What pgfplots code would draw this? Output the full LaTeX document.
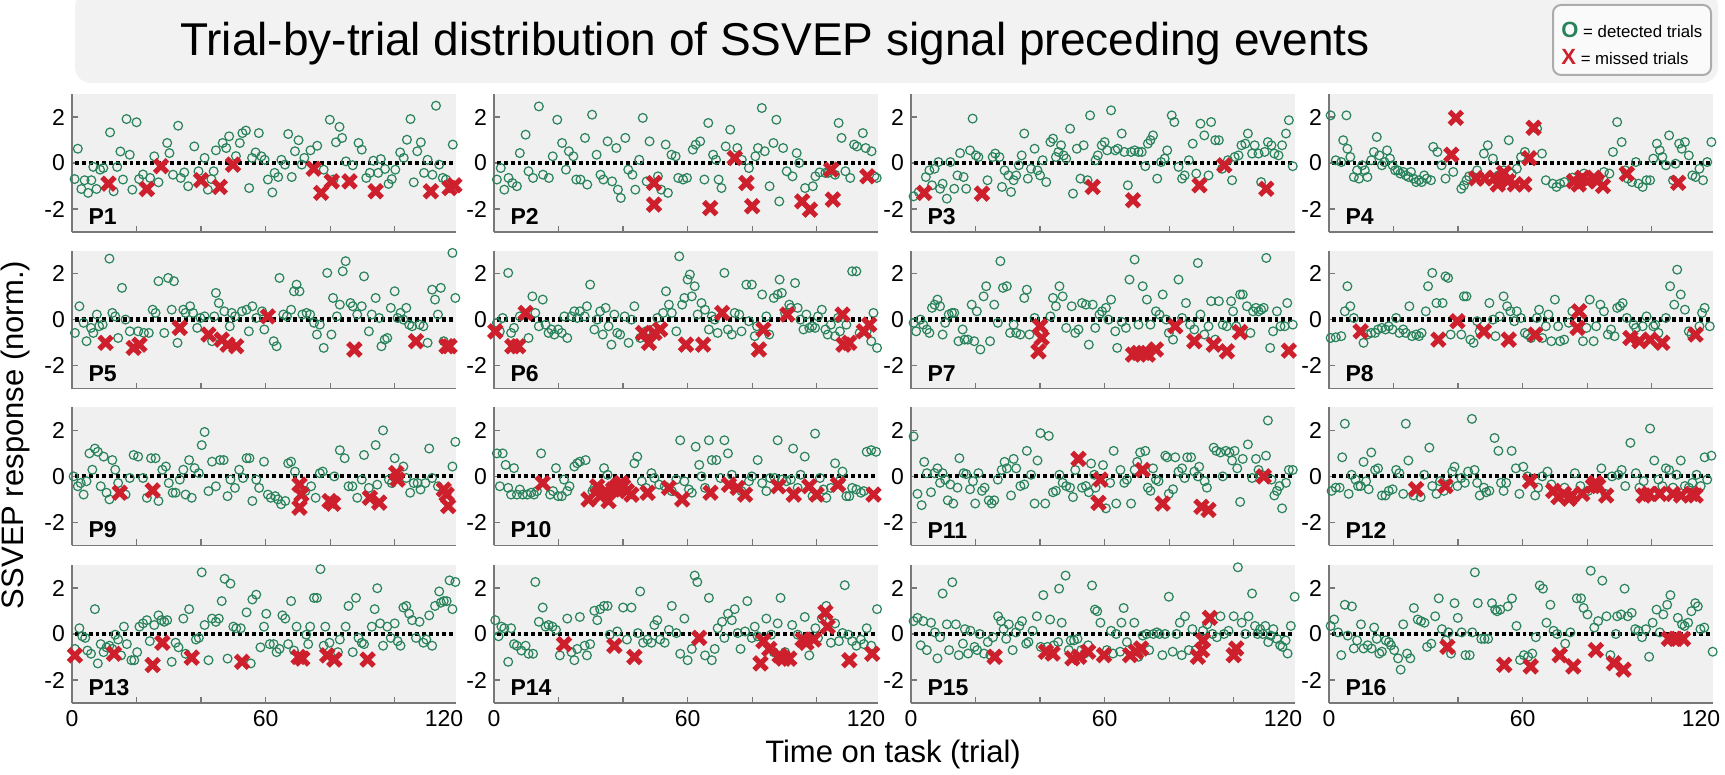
\documentclass[border=0pt]{standalone}
\usepackage{pgfplots}
\pgfplotsset{compat=1.18}
\usepackage{fontspec}
\setmainfont{Liberation Sans}
\definecolor{panelbg}{RGB}{240,240,240}
\definecolor{bannerbg}{RGB}{242,242,242}
\definecolor{axisgray}{RGB}{120,120,120}
\definecolor{detgreen}{RGB}{40,130,90}
\definecolor{misred}{RGB}{205,32,44}
\tikzset{plab/.style={font=\bfseries\fontsize{11.5}{12}\selectfont, anchor=south west, inner sep=0pt}}
\pgfplotsset{
 panel/.style={scale only axis, width=192pt, height=69pt, anchor=south west,
  xmin=0, xmax=119, ymin=-3, ymax=3,
  axis background/.style={fill=panelbg},
  axis x line*=bottom, axis y line*=left,
  axis line style={draw=axisgray, line width=0.6pt},
  tick align=inside, major tick length=3pt,
  tick style={draw=axisgray, line width=0.6pt},
  xtick={0,20,40,60,80,100}, xticklabels={},
  ytick={-2,0,2}, yticklabels={-2,0,2},
  tick label style={font=\fontsize{11.5}{12}\selectfont, text=black}},
 bottomrow/.style={xticklabels={0,,,60,,}, extra x ticks={115.3}, extra x tick labels={120}, extra x tick style={major tick length=0pt}},
 det/.style={only marks, mark=o, mark size=2.2pt, mark options={draw=detgreen, line width=0.6pt}},
 mis/.style={only marks, mark=x, mark size=4.5pt, mark options={draw=misred, line width=2.6pt}},
 zl/.style={black, line width=2.1pt, dash pattern=on 1.9pt off 1.5pt}
}
\begin{document}
\begin{tikzpicture}
\path[use as bounding box] (0pt,0pt) rectangle (862.5pt,387.5pt);
% banner
\fill[bannerbg, rounded corners=8pt] (37.5pt,346pt) rectangle (859pt,392pt);
\node[font=\fontsize{23}{26}\selectfont] at (387.5pt,365.5pt) {Trial-by-trial distribution of SSVEP signal preceding events};
\draw[draw=gray!65, fill=gray!4, line width=1pt, rounded corners=4pt] (776.5pt,350pt) rectangle (855.5pt,385pt);
\node[anchor=west, font=\fontsize{8.4}{9}\selectfont, inner sep=0pt] at (780.5pt,372.5pt) {\textcolor{detgreen}{\bfseries\fontsize{11}{11}\selectfont O} = detected trials};
\node[anchor=west, font=\fontsize{8.4}{9}\selectfont, inner sep=0pt] at (780.5pt,359pt) {\textcolor{misred}{\bfseries\fontsize{11}{11}\selectfont X} = missed trials};
\node[rotate=90, font=\fontsize{15.5}{16}\selectfont] at (7.5pt,170pt) {SSVEP response (norm.)};
\node[font=\fontsize{15.5}{16}\selectfont] at (446.5pt,10.5pt) {Time on task (trial)};

% ---------------- Row 1 ----------------
\begin{axis}[panel, at={(36pt,271.5pt)}]
\addplot[det] coordinates {(1.8,0.62)(0.8,-0.7)(2.9,-1.13)(3.9,-0.75)(5,-1.3)(6,-0.75)(6.6,-0.17)(7.6,-1.13)(8.7,-0.29)(9.7,-0.22)(11.8,1.33)(12.9,-1.23)(14,-0.17)(15,0.5)(15.8,-0.72)(16.9,1.91)(17.9,0.36)(18.7,-1.16)(20,1.77)(20.8,-0.7)(22,-0.5)(24.2,-0.65)(25.5,0.29)(26.8,-0.84)(29.5,0.87)(30.2,0.43)(31.3,-0.51)(32.9,1.62)(33.7,-0.65)(34.8,-0.41)(36,-1.01)(37.9,0.72)(39.2,-0.36)(41.1,0.22)(42.1,-1.16)(43.2,-0.7)(43.9,-0.36)(44.6,0.55)(46.7,0.87)(47.8,0.65)(48.7,1.16)(50.8,0.3)(52,0.87)(52.8,1.3)(53.9,1.41)(54.9,-1.09)(55.8,0.22)(56.9,0.46)(57.9,1.3)(58.7,0.29)(59.7,0.14)(60.7,-0.72)(62.1,-1.28)(62.8,-0.43)(63.9,-0.61)(64.9,0.14)(66,-0.07)(67,1.26)(68.1,-0.61)(69.1,0.51)(70.2,0.99)(71.2,-0.07)(72,0.22)(73.9,0.55)(76,0.75)(78,-0.29)(79.9,1.88)(81,-0.72)(81.8,0.9)(82.9,1.57)(83.7,1.09)(84.9,0.07)(87,-0.1)(88.8,0.87)(89.8,0.58)(91.2,-0.65)(92.3,-0.43)(93.4,0.1)(94.9,-0.43)(95.7,0.17)(97,-0.26)(98.1,-0.91)(99.1,-0.7)(100.2,-0.29)(101.7,0.46)(102.8,0.22)(103.8,1.01)(104.9,1.91)(105.9,-0.84)(107,0.51)(108.1,0.9)(109.1,-0.43)(110.2,0.14)(111.7,-0.51)(112.8,2.49)(113.8,-0.07)(114.9,-0.65)(115.9,-0.72)(118,0.8)};
\addplot[zl] coordinates {(1,0)(118.5,0)};
\addplot[mis] coordinates {(11.3,-0.9)(23.2,-1.13)(27.6,-0.14)(40,-0.75)(45.8,-1.04)(49.9,-0.07)(74.9,-0.25)(77.2,-1.3)(80.5,-0.8)(86,-0.8)(94.1,-1.23)(111.2,-1.23)(117,-1.09)(118.5,-0.97)};
\node[plab] at (rel axis cs:0.042,0.05) {P1};
\end{axis}

\begin{axis}[panel, at={(247pt,271.5pt)}]
\addplot[det] coordinates {(0.9,-0.72)(2.1,-0.22)(3.2,-1.16)(4.5,-0.65)(5.7,-0.87)(7.1,-1.01)(8,0.43)(9.8,1.23)(10.7,-0.36)(12.1,-0.65)(13.9,2.46)(15.2,-0.51)(17,-0.65)(18.2,0.29)(19.6,1.88)(21.1,0.87)(22.3,-0.29)(23.2,0.51)(24.6,0.29)(25.5,-0.72)(26.8,-0.72)(28.2,1.09)(28.9,-0.94)(30.4,2.1)(31.8,0.36)(33,-0.51)(33.9,-0.72)(35.2,0.94)(36.6,-0.8)(37.9,0.65)(38.4,-1.16)(39.3,-1.52)(40.7,1.09)(41.6,-0.29)(42.9,-0.51)(43.8,-1.16)(45,0.14)(46.1,1.96)(47.3,-0.8)(48.2,0.94)(50.8,-0.58)(51.8,-1.16)(53.2,0.8)(53.9,-1.3)(55,0.36)(56.3,0.29)(57.1,-0.65)(58.6,-0.72)(59.8,-0.65)(61.6,0.58)(62.5,0.8)(63.9,0.94)(65.2,-0.72)(66.4,1.74)(67.9,0.36)(68.8,0.14)(69.6,-0.72)(70.5,-1.09)(71.8,0.72)(73.2,1.45)(75.4,0.65)(76.8,0.14)(79,-0.22)(81,0.29)(81.8,0.65)(83,2.39)(83.9,0.51)(85.4,-1.01)(86.6,0.87)(87.5,1.88)(88.4,-1.67)(89.6,0.65)(90.7,-0.36)(92.5,-0.58)(93.8,0.43)(94.6,0)(96.4,-1.09)(98.8,-1.01)(99.6,-0.58)(100.9,-0.41)(102.7,-0.43)(103.6,-0.43)(105.7,-0.51)(106.8,1.74)(107.7,1.09)(108.9,-0.36)(110.4,-0.65)(111.6,0.8)(112.5,0.72)(114.3,1.3)(115.2,0.65)(117,0.51)(117.9,-0.58)(118.6,-0.65)};
\addplot[zl] coordinates {(1,0)(118.5,0)};
\addplot[mis] coordinates {(49.6,-0.87)(49.6,-1.81)(67,-1.96)(74.6,0.22)(78.2,-0.87)(80,-1.88)(95.5,-1.67)(97.9,-2.03)(104.5,-0.29)(105,-1.59)(115.7,-0.58)};
\node[plab] at (rel axis cs:0.042,0.05) {P2};
\end{axis}

\begin{axis}[panel, at={(455.5pt,271.5pt)}]
\addplot[det] coordinates {(0.8,-1.45)(2.4,-1.26)(4.6,-0.61)(5.7,-0.32)(6.5,-0.97)(7.3,-0.25)(8.5,0.04)(9,-1.12)(9.8,-0.9)(11.1,-1.55)(12.2,0.04)(13.4,-1.12)(14.4,-0.54)(15.2,0.43)(16.3,-0.61)(17.1,-1.12)(18.3,0.55)(19.1,1.93)(20.1,0.33)(20.9,0.26)(23.7,-0.75)(25.3,0.26)(26.1,0.41)(27.4,0.26)(28.2,-1.04)(29,-0.32)(30.2,-0.54)(31,-1.26)(31.8,-0.75)(32.6,-0.54)(33.4,-0.1)(34.3,0.33)(35.1,1.28)(36.2,-0.68)(37.2,-0.25)(38.3,0.62)(39.2,-0.32)(40,-0.54)(40.8,0.12)(41.9,-0.83)(43.2,0.91)(44,1.06)(44.9,0.26)(45.7,0.48)(46.5,0.77)(47.3,0.33)(48.1,0.19)(49.3,1.49)(50.2,-1.33)(51.4,0.62)(52.5,-0.68)(53.5,0.77)(54.7,-0.75)(55.5,2.07)(57.2,0.12)(57.9,0.33)(59.1,0.77)(60,0.91)(60.8,0.55)(62,2.29)(63.3,0.55)(64.1,0.62)(65.3,1.28)(66.1,0.48)(67.2,-0.97)(68.2,0.48)(69.3,0.55)(70.5,0.48)(71.5,0.48)(72.6,-0.14)(73.4,0.84)(74.2,0.99)(75,1.2)(76.3,-0.68)(77.5,0.04)(78.6,0.19)(79.4,0.55)(80.8,2.07)(81.6,1.78)(82.9,-0.17)(84,-0.68)(84.8,-0.54)(86.1,0.12)(87.3,0.84)(88.4,-0.46)(89.7,1.71)(90.9,1.2)(92.2,-0.54)(93,1.78)(94.3,0.99)(95.4,0.99)(96.4,-0.25)(98.2,0.12)(99.5,-0.75)(100.3,0.26)(101.5,0.33)(102.4,0.77)(103.6,0.84)(104.4,1.28)(105.7,0.41)(106.5,0.77)(107.7,0.41)(108.5,-0.83)(109.6,0.48)(110.6,0.91)(111.7,0.77)(112.6,0.41)(113.9,0.33)(115,0.77)(116.2,1.28)(117.1,1.86)(118.3,-0.14)};
\addplot[zl] coordinates {(1,0)(118.5,0)};
\addplot[mis] coordinates {(4.1,-1.3)(22,-1.33)(56.3,-1.04)(68.8,-1.62)(89.4,-0.97)(97.1,-0.1)(110.1,-1.12)};
\node[plab] at (rel axis cs:0.042,0.05) {P3};
\end{axis}

\begin{axis}[panel, at={(664.5pt,271.5pt)}]
\addplot[det] coordinates {(0.5,2.07)(2.1,0.12)(3.8,0.04)(4.4,0.99)(5.4,2.07)(5.7,0.62)(6.6,0.26)(7.7,-0.61)(8.7,-0.32)(9.3,-0.68)(10.3,-0.1)(11.1,-0.32)(11.9,-0.61)(13.1,0.12)(13.9,0.48)(14.8,1.13)(15.6,0.33)(16.4,-0.1)(17.2,0.04)(18,0.55)(18.9,0.19)(19.7,-0.1)(20.5,-0.32)(21.3,-0.32)(22.1,-0.46)(23,-0.39)(23.8,-0.54)(24.6,-0.61)(25.4,-0.39)(26.2,-0.68)(27,-0.83)(27.9,-0.75)(28.7,-0.83)(29.5,-0.54)(30.3,-0.68)(31.6,-0.75)(32.3,0.7)(33.6,0.48)(34.9,-0.1)(36.1,-0.68)(38.5,-0.39)(41,-1.12)(41.8,-0.97)(42.6,-0.75)(43.4,-0.58)(44.8,-0.61)(45.9,-0.32)(48,0.41)(49.2,0.77)(50.8,0.19)(52.5,-0.54)(54.1,-0.32)(55.7,0.99)(56.6,-0.46)(58.2,-0.25)(59.5,0.26)(60.7,0.48)(64.5,1.49)(66,0.41)(67.2,-0.75)(69.3,-0.9)(70.5,-1.04)(71.6,-0.9)(72.9,-0.83)(75.4,-0.64)(79,-0.46)(83.6,-0.68)(85.2,-0.39)(86.9,-0.46)(88,0.48)(89.3,1.78)(90.7,0.91)(91.8,-0.32)(92.6,-0.68)(93.9,-0.83)(95.1,0.04)(95.9,-0.9)(97.2,-1.04)(98.4,-0.75)(99.5,-0.75)(100.5,0.19)(101.6,0.84)(102.5,0.55)(103.3,0.26)(104.4,-0.1)(105.4,1.2)(106.6,-0.75)(107.4,-0.03)(108.5,0.84)(109.3,0.62)(110.3,0.91)(111.5,0.33)(112.6,-0.54)(113.6,-0.61)(114.8,-0.25)(115.9,-0.75)(117.2,0.04)(118.5,0.91)};
\addplot[zl] coordinates {(1,0)(118.5,0)};
\addplot[mis] coordinates {(39.3,1.96)(37.9,0.36)(45.6,-0.67)(48.2,-0.67)(51.3,-0.64)(52.3,-0.93)(54.2,-0.43)(55.4,-0.79)(57.6,-0.93)(60.5,-0.93)(62.1,0.21)(63.4,1.53)(75.9,-0.79)(77.4,-0.93)(78.5,-0.64)(80,-0.79)(82.1,-0.64)(83.1,-0.79)(84.9,-1.0)(92.3,-0.47)(108.2,-0.86)};
\node[plab] at (rel axis cs:0.042,0.05) {P4};
\end{axis}

% ---------------- Row 2 ----------------
\begin{axis}[panel, at={(36pt,193.2pt)}]
\addplot[det] coordinates {(0.9,-0.58)(2.3,0.58)(3.6,-0.14)(4.5,-0.94)(5.9,-0.36)(6.6,-0.58)(7.7,0.22)(8.4,-0.29)(9.5,-0.22)(11.6,2.65)(12.5,0.29)(13.4,0.14)(14.3,-0.8)(15.5,1.38)(16.6,0)(17.9,-0.51)(20.5,-0.51)(22.3,-0.58)(23.8,-0.58)(25,0.43)(25.9,0.29)(26.8,1.67)(28.6,-0.58)(29.8,1.81)(30.9,0.43)(31.6,1.67)(32.7,-1.01)(34.5,0.43)(35.2,0.29)(36.6,0.58)(37.5,0.29)(38.8,-0.36)(39.8,0.07)(41.1,0.14)(43.4,-0.94)(44.1,0.14)(44.6,1.16)(45.5,0.72)(47.2,0.36)(48.9,-0.29)(49.5,0.29)(50.5,0.14)(52.7,0.36)(54.1,0.43)(54.8,-0.51)(55.9,0.58)(57.1,0.07)(58.9,0.36)(59.6,-0.43)(62.5,-0.94)(63.4,-1.16)(64.3,1.81)(65.5,0.22)(66.6,0.14)(67.9,0.43)(68.8,1.23)(69.6,1.52)(70.5,1.23)(71.4,0.22)(72.7,0.29)(73.8,0.22)(75,-0.14)(75.9,-0.65)(76.8,-0.22)(78,-1.23)(79.1,2.03)(80.4,-0.65)(80.9,0.94)(82.1,0.14)(83,0.65)(83.9,2.1)(84.8,2.54)(86.3,0.72)(87,0.58)(88.4,0.22)(89.8,0.58)(90.5,1.88)(92,-0.51)(92.9,0.22)(94.1,0.94)(95.2,0.07)(95.9,-1.16)(96.9,-0.87)(97.7,-0.8)(98.8,0.51)(100,1.23)(100.9,0.07)(101.8,0.29)(102.7,0)(103.6,0.51)(104.5,-0.22)(105.4,-0.29)(107.7,-0.22)(108.9,-0.29)(110.2,-1.01)(111.6,1.3)(112.5,0.87)(113.4,0.22)(114.3,1.38)(115.2,-0.94)(117.9,2.9)(118.8,0.94)};
\addplot[zl] coordinates {(1,0)(118.5,0)};
\addplot[mis] coordinates {(10.4,-1.01)(19.1,-1.23)(20.9,-1.09)(33.4,-0.36)(42.3,-0.65)(46.4,-0.87)(48.2,-1.09)(50.9,-1.16)(60.7,0.14)(87.5,-1.3)(106.6,-0.94)(116.1,-1.16)(117,-1.16)};
\node[plab] at (rel axis cs:0.042,0.05) {P5};
\end{axis}

\begin{axis}[panel, at={(247pt,193.2pt)}]
\addplot[det] coordinates {(0.9,-0.14)(1.8,-0.51)(2.7,0.07)(4.4,2.03)(5.3,-0.58)(6.2,-0.36)(8,0.14)(10.7,-0.8)(11.9,1.01)(12.8,0.29)(13.9,-0.29)(15.1,0.87)(16,-0.22)(16.9,-0.58)(17.8,-0.43)(18.7,-0.65)(19.9,-0.43)(21,-0.58)(21.8,0.14)(22.7,-0.8)(24,0.14)(24.9,0.36)(25.8,0.07)(26.6,0.36)(28.1,0.14)(28.8,0.58)(29.8,1.52)(31.1,-0.43)(32,0)(32.9,0.36)(33.7,-0.65)(34.6,0.51)(35.5,-0.29)(36.4,-1.09)(37.3,0.22)(38.2,-0.58)(39.1,-0.65)(40.5,0.14)(41.7,-1.01)(42.6,0)(43.5,0.58)(45.3,-0.8)(47.1,-0.51)(49.4,-0.43)(50.6,0.07)(52.4,0.29)(53.3,1.23)(54.2,0.65)(55.1,0.29)(56.5,-0.51)(57.4,2.75)(58.3,0.65)(59,0.94)(60,1.74)(60.7,1.96)(61.3,1.01)(62.2,1.45)(63.1,0.22)(64.3,0.72)(65.4,0.43)(66.6,-0.43)(67.5,0.14)(68.4,0)(69.3,-0.58)(71.4,2.03)(72.5,-0.43)(73.7,-0.65)(74.6,0.29)(76,0.22)(76.7,-0.51)(78.2,1.52)(79,-0.07)(79.9,1.52)(80.8,-0.72)(81.5,-0.29)(83.1,1.09)(84.4,0.14)(85.3,-0.65)(86.7,0.94)(87.9,1.09)(88.5,1.74)(89.2,1.16)(90.2,0.29)(91.5,0.65)(92,0.51)(93.3,1.59)(94.1,0.51)(95,0)(95.9,-0.43)(96.8,0.22)(97.7,-0.36)(98.6,-0.29)(99.5,-0.36)(100.4,0.14)(101.6,0.43)(102.7,-0.43)(103.4,-0.65)(104.4,-0.22)(105.7,-0.72)(106.6,0.07)(107.2,-0.51)(109.2,-0.22)(111,2.1)(112.3,2.1)(113.3,-0.58)(115.5,-0.51)(116.9,-0.94)(117.6,0.29)(118.7,-1.23)};
\addplot[zl] coordinates {(1,0)(118.5,0)};
\addplot[mis] coordinates {(0.4,-0.51)(5.7,-1.16)(7.5,-1.16)(9.8,0.29)(46.2,-0.58)(48,-1.01)(49.7,-0.58)(51.5,-0.43)(59.5,-1.09)(64.8,-1.09)(70.7,0.29)(82.1,-1.3)(83.5,-0.43)(90.9,0.22)(108,0.22)(108.3,-1.09)(110.1,-1.01)(114.6,-0.51)(116.3,-0.22)};
\node[plab] at (rel axis cs:0.042,0.05) {P6};
\end{axis}

\begin{axis}[panel, at={(455.5pt,193.2pt)}]
\addplot[det] coordinates {(0.8,-0.14)(1.6,-0.51)(2.9,0)(3.8,-0.22)(4.9,-0.43)(5.7,-0.58)(6.5,0.51)(7.3,0.65)(8.2,0.87)(9,0.58)(9.8,-0.65)(10.6,-0.14)(11.7,0.22)(12.7,0.29)(13.4,0.29)(14.7,-0.94)(16,-0.43)(16.6,-0.87)(17.6,-0.87)(18.8,0.65)(19.6,-0.94)(20.4,0.36)(21.5,-1.3)(22.5,1.01)(23.3,1.45)(24.5,-0.94)(25.8,0.65)(26.9,-0.14)(27.7,2.54)(28.5,1.38)(29.7,1.45)(30.7,-0.58)(31.8,-0.22)(32.6,-0.58)(33.9,-0.65)(35.1,0.94)(35.9,1.3)(36.7,-0.65)(38.3,0.07)(43.2,0.14)(44,0.94)(44.9,0.58)(46,1.45)(47,1.01)(48.1,-0.36)(49.8,0.58)(50.9,-0.58)(51.9,-0.43)(53,0.72)(54.2,0.65)(55.1,-1.09)(56.3,0.65)(57.1,-0.36)(58.4,0.22)(59.2,0.36)(60.4,0.51)(61.2,0)(62,0.87)(63.3,-0.51)(63.9,-1.23)(65.3,-0.1)(66.6,-0.36)(67.7,1.74)(69.3,2.61)(70.5,-0.22)(71.8,1.45)(73.1,0.87)(74.2,-0.22)(75.9,0.36)(77,0.22)(78,1.09)(79.1,0)(79.9,-0.58)(81.2,-0.87)(82.9,1.74)(84,0.07)(85.2,0.72)(86.5,-0.22)(87.8,-0.43)(88.9,2.46)(89.7,0.22)(90.9,-0.65)(92.2,-0.29)(93,0.8)(94.3,-0.87)(95.4,0.8)(96.6,-0.22)(97.9,-0.29)(99.2,0.8)(99.8,0.36)(100.8,-0.29)(102,1.09)(102.8,1.09)(104.1,0.58)(105.2,-0.58)(106,0.36)(106.9,0.51)(107.7,0.36)(108.5,0.43)(109.3,0.51)(110.1,2.68)(111.3,-1.23)(112.2,-0.51)(113.4,0.36)(114.5,-0.29)(115.8,-0.29)(116.6,0.72)(118.3,-0.22)};
\addplot[zl] coordinates {(1,0)(118.5,0)};
\addplot[mis] coordinates {(40,-0.29)(40.5,-0.8)(39.5,-1.38)(68.8,-1.52)(70.5,-1.45)(72.1,-1.45)(73.4,-1.52)(75.9,-1.3)(81.9,-0.29)(87.8,-0.94)(93.8,-1.09)(97.9,-1.38)(102,-0.54)(117.1,-1.35)};
\node[plab] at (rel axis cs:0.042,0.05) {P7};
\end{axis}

\begin{axis}[panel, at={(664.5pt,193.2pt)}]
\addplot[det] coordinates {(0.5,-0.8)(2.1,-0.77)(3.8,-0.72)(4.9,0.36)(5.7,1.45)(6.6,0.58)(7.7,0.07)(10.7,-1.01)(11.9,-0.65)(13.1,-0.58)(14.3,-0.58)(15.2,-0.43)(16.4,-0.36)(17.5,-0.43)(18.5,-0.29)(19.7,-0.43)(20.8,0.07)(21.8,-0.58)(23,-0.43)(23.8,-0.58)(24.9,0.58)(25.7,-0.72)(27,-0.65)(27.9,-0.72)(28.7,-0.58)(30,0.36)(30.7,1.45)(32,2.03)(33.3,0.72)(35.2,0.72)(36.1,1.88)(36.9,1.81)(37.7,-0.65)(41,-0.65)(41.8,1.01)(42.6,1.01)(43.8,-0.87)(44.8,-1.01)(45.9,-0.07)(46.7,-0.51)(49.7,0.72)(50.8,0)(51.6,-0.72)(52.9,0.14)(54.1,1.01)(55.2,0.58)(56.2,0.36)(57.4,-0.07)(58.2,0.36)(59.5,0.07)(60.7,-0.58)(61.5,-0.65)(62.6,-0.8)(64.4,0.07)(65.1,0.43)(66.1,-0.8)(67.2,-0.29)(68,0.22)(68.9,-0.94)(70,0.87)(71,-0.29)(71.6,-0.94)(72.9,-0.87)(74.3,-0.14)(75.4,0.36)(78.7,-0.94)(79.8,-0.36)(80.8,0.87)(82,-0.94)(82.8,-0.29)(84.1,0.65)(85.2,0.36)(86.4,-0.65)(87.4,-0.43)(88.5,-0.72)(89.3,0.51)(90.2,0.58)(91,0.72)(92.3,0.07)(94.4,-0.22)(95.1,-0.36)(97.2,-0.29)(98.4,0.14)(100.5,-0.29)(101.1,-0.22)(102.1,-0.58)(104.4,0.07)(105.7,1.45)(107,0.65)(107.9,2.17)(109,1.09)(110.3,0.43)(111.5,-0.51)(112.3,-0.65)(114.8,-0.29)(115.6,0.29)(116.4,0.51)(118,-0.29)};
\addplot[zl] coordinates {(1,0)(118.5,0)};
\addplot[mis] coordinates {(9.8,-0.51)(33.9,-0.87)(39.8,-0.07)(48,-0.51)(55.7,-0.87)(63.9,-0.65)(77.5,0.36)(77,-0.36)(93.4,-0.8)(96.2,-0.94)(99.5,-0.87)(103.3,-1.01)(113.6,-0.65)};
\node[plab] at (rel axis cs:0.042,0.05) {P8};
\end{axis}

% ---------------- Row 3 ----------------
\begin{axis}[panel, at={(36pt,114.8pt)}]
\addplot[det] coordinates {(0.5,0)(1.8,-0.43)(2.7,-0.29)(3.6,-0.79)(4.5,-0.21)(5.4,1)(6.3,0.29)(7.1,1.21)(8,1.07)(8.9,-0.43)(9.8,0.86)(10.7,-0.71)(11.6,-1)(12.5,0.71)(13.4,0.29)(14.3,-0.29)(16.6,-0.79)(17.9,-0.07)(19.1,0.93)(20.5,0.86)(22,-0.07)(23.2,-0.93)(24.5,0.79)(25.9,0.79)(26.8,-1.07)(28,0.29)(29.1,0.43)(30,-0.29)(31.2,-0.71)(32.1,-0.71)(33.4,-0.14)(34.5,0.29)(35.2,-0.79)(36.3,0.71)(37.1,-0.93)(38,0.36)(39.3,0.14)(40.2,1.36)(41.1,1.93)(42.3,-0.64)(43.4,0.64)(44.6,-0.43)(45.9,0.71)(47,0.71)(48.2,-0.86)(49.1,-0.14)(50.5,-0.5)(51.8,0.29)(53,-0.07)(54.1,0.79)(55,0.79)(55.9,-1.07)(57.1,-0.14)(58,-0.5)(59.5,0.64)(60.7,-0.79)(61.6,-0.93)(63,-0.86)(63.8,-1)(64.8,-1.21)(66.1,-1.07)(67,0.57)(67.9,0.64)(69.1,0.21)(72.3,-0.64)(74.1,-0.43)(75.5,-0.93)(76.8,0.14)(77.7,0.21)(81.3,0)(83,1.14)(84.5,0.79)(85.7,-0.43)(86.9,-0.43)(88.4,-0.93)(89.8,-0.14)(90.5,0.93)(92,-0.5)(94.1,1.36)(94.6,-0.36)(96.4,2)(98.2,-0.14)(99.1,-0.29)(100,0.79)(102.7,0.43)(103.6,-0.07)(104.8,-0.71)(105.9,-0.29)(107.1,-0.29)(108,-0.57)(109.5,-0.29)(110.7,1.21)(111.6,-0.07)(113.4,-0.43)(117.9,0.43)(118.8,1.5)};
\addplot[zl] coordinates {(1,0)(118.5,0)};
\addplot[mis] coordinates {(14.8,-0.71)(25,-0.61)(70.5,-0.36)(71.1,-0.79)(70.5,-1.36)(79.8,-1.07)(80.9,-1.19)(92.3,-0.93)(95.2,-1.14)(100.5,0.14)(100.9,-0.14)(115.2,-0.57)(116.1,-0.79)(116.6,-1.29)};
\node[plab] at (rel axis cs:0.042,0.05) {P9};
\end{axis}

\begin{axis}[panel, at={(247pt,114.8pt)}]
\addplot[det] coordinates {(0.9,1)(1.8,-0.43)(2.7,1)(3.6,0.5)(4.4,-0.5)(5.3,-0.79)(6.2,0.36)(7.1,-0.79)(8,-0.57)(8.9,-0.79)(10.3,-0.79)(11.5,-0.71)(12.4,-0.79)(13.3,-0.64)(14.6,1)(17.4,-0.79)(18.3,-0.64)(19.2,0.36)(19.9,-0.86)(21,-0.86)(21.7,-0.14)(22.7,-0.64)(23.4,-0.43)(24.9,0.43)(25.8,0.57)(26.6,0.64)(28.4,0.71)(30.5,-0.64)(31.1,-0.5)(34.1,0.36)(35.2,0.07)(36.4,-0.5)(43.5,0.57)(44.4,0.86)(45.8,-0.21)(47.1,-0.5)(48.8,0.14)(49.7,-0.07)(51.2,-0.36)(52.9,-0.43)(55.1,-0.64)(56.5,-0.14)(57.7,1.57)(59,-0.21)(60.4,-0.57)(61.3,-0.71)(62.5,1.29)(63.6,0.5)(64.3,0)(65.4,-0.5)(66.6,1.57)(67.5,0.71)(68.9,0.71)(70.2,-0.07)(71.4,1.57)(72.5,1)(73.7,0.07)(76.7,-0.64)(79,-0.21)(79.9,0)(81.7,0.71)(83.1,-0.29)(84.4,-0.64)(85.6,-0.07)(87,-0.07)(87.9,1.57)(89.2,-0.14)(90.6,-0.21)(92,-0.14)(92.7,1.21)(94.1,-0.5)(95,0.07)(96.3,0.86)(98.7,-0.86)(99.5,1.86)(101,-0.07)(102.1,-0.57)(103,-0.93)(104.4,-0.5)(105.7,0.57)(107.4,-0.14)(108,0.21)(109.2,-0.86)(110.1,-0.86)(111,-0.5)(112.3,-0.57)(113.7,-0.71)(114.6,-0.64)(115.5,1.07)(116.9,1.14)(118.4,1.07)};
\addplot[zl] coordinates {(1,0)(118.5,0)};
\addplot[mis] coordinates {(15.1,-0.29)(29.3,-1)(32,-0.43)(32.9,-0.86)(34.6,-0.64)(35.5,-1.07)(36.9,-0.57)(38.2,-0.43)(39.4,-0.29)(40,-0.43)(41.2,-0.64)(42.6,-0.79)(47.6,-0.71)(54.2,-0.5)(58.3,-1)(67.1,-0.71)(72.8,-0.36)(75.5,-0.5)(77.8,-0.79)(88.1,-0.43)(92.9,-0.79)(97.7,-0.43)(100,-0.79)(106.6,-0.36)(117.6,-0.79)};
\node[plab] at (rel axis cs:0.042,0.05) {P10};
\end{axis}

\begin{axis}[panel, at={(455.5pt,114.8pt)}]
\addplot[det] coordinates {(0.8,1.74)(2,-0.76)(3.3,-1.25)(4.1,0.63)(4.9,0.14)(6.2,-0.69)(7.3,0.14)(8.2,0.35)(9,-0.28)(9.8,0.14)(10.6,-0.14)(11.4,-1.04)(12.2,-0.35)(13.1,-1.18)(14.4,-0.49)(15,0.79)(16.3,0.14)(17.1,0.1)(18.3,-0.56)(19.2,-0.21)(19.9,-1.18)(20.9,0.14)(22,-0.63)(22.8,-0.49)(24.1,-1.04)(25,-1.18)(25.8,-1.04)(26.9,-0.14)(28.1,0.28)(29,0.63)(29.7,0.35)(31,-0.83)(31.8,0.76)(32.6,0.35)(33.9,-0.42)(35.1,-0.35)(35.9,1.11)(37.2,0.07)(38.3,-1.18)(39.2,0.69)(40.1,1.88)(41.6,-1.18)(42.7,1.76)(44,-0.69)(44.9,-0.63)(46,0.07)(47,-0.28)(48.1,-0.42)(49.3,-0.49)(50.2,-0.9)(50.9,0.28)(53,-0.49)(54.2,-0.42)(55.1,-0.69)(55.8,0.56)(56.8,0.07)(57.2,-0.49)(59.5,0.49)(60.4,-1.39)(61.7,-0.28)(62.8,1.11)(63.6,-1.18)(64.9,0.28)(66.1,-0.28)(66.9,-0.14)(68.2,-1.18)(69.3,0.28)(70.1,0.63)(71,1.04)(72.6,1.11)(73.4,-0.49)(74.2,-0.63)(75,0.35)(75.9,-0.14)(76.7,-0.21)(78.8,0.9)(79.4,0.83)(79.9,-0.76)(81.2,-0.56)(81.9,0.83)(82.9,0.21)(84,0.35)(84.8,-0.07)(85.6,0.83)(86.8,0.83)(87.8,0.21)(88.9,0)(89.3,0.42)(91,-0.21)(91.7,-0.49)(93.8,1.25)(94.6,1.11)(95.9,1.04)(96.6,0)(97.6,1.11)(98.7,1.04)(99.5,0.69)(100.3,1.11)(101.1,0.35)(102,-1.11)(102.8,0.76)(104.4,1.39)(105.7,-0.07)(106.9,0.76)(107.7,0.28)(108.5,0.07)(110,0.9)(110.6,2.43)(111.7,-0.14)(112.6,-0.83)(113.4,-0.63)(114.2,-0.42)(115,-1.39)(116.2,-0.28)(117.1,0.28)(118.3,0.28)};
\addplot[zl] coordinates {(1,0)(118.5,0)};
\addplot[mis] coordinates {(51.9,0.76)(58.7,-0.14)(58.1,-1.15)(71.8,0.28)(78,-1.18)(90,-1.32)(92.2,-1.46)(109.3,0)};
\node[plab] at (rel axis cs:0.042,0.05) {P11};
\end{axis}

\begin{axis}[panel, at={(664.5pt,114.8pt)}]
\addplot[det] coordinates {(0.8,-0.63)(2.1,-0.49)(3.3,-0.49)(4.1,0.83)(4.9,2.29)(6.1,-0.76)(7,0.07)(8.2,-0.14)(9,-0.42)(9.8,-0.42)(10.7,0.63)(11.5,-0.21)(12.3,-0.56)(13.1,1.04)(14.3,0.28)(15.2,0.35)(16.4,-0.83)(17.5,-0.83)(18.5,-0.63)(19.7,-0.56)(20.8,0.28)(21.8,0.14)(23,-0.76)(23.8,2.29)(24.6,0.69)(26.2,-0.83)(28.4,-0.9)(29.5,0.07)(31.1,1.25)(32,-0.42)(33.3,-0.76)(34.4,-0.21)(35.6,-0.63)(36.9,-0.35)(38.2,0.21)(38.9,0.42)(39.8,-0.42)(41,-0.07)(42.1,-0.28)(43.1,0.21)(44.3,2.5)(45.1,0.28)(45.9,-0.28)(46.7,-0.83)(48,-0.49)(48.7,-0.69)(49.7,-0.63)(51.3,1.67)(52.5,1.11)(53.3,-0.28)(54.1,-0.63)(54.9,-0.28)(56.6,1.11)(57.9,0.35)(59,-0.76)(60.2,0.42)(61.5,0)(63.9,-0.83)(64.8,-0.49)(66.1,0)(67.7,0.21)(68.9,-0.35)(73,-0.49)(76.2,0.14)(77.9,-0.42)(80.3,-0.63)(82.5,-0.49)(84.4,0.35)(85.7,-0.76)(87.7,0)(89.7,0.07)(90.7,0.28)(91.8,-0.42)(93.4,1.46)(95.1,0.14)(96.2,-0.49)(97.5,-0.21)(99.5,2.08)(100.8,0.69)(102.1,-0.14)(103.3,-0.42)(104.4,0.35)(105.4,0.28)(106.6,-0.49)(107.7,0.07)(109,0.69)(110.3,-0.42)(111.5,-0.49)(112.6,-0.28)(113.9,0.07)(115.2,-0.42)(116.4,0.83)(117.2,-0.14)(118.5,0.9)};
\addplot[zl] coordinates {(1,0)(118.5,0)};
\addplot[mis] coordinates {(27,-0.56)(36.1,-0.42)(62.3,-0.21)(69.5,-0.63)(71.1,-0.9)(72.8,-0.76)(74.4,-0.97)(75.2,-0.83)(78.5,-0.76)(81.8,-0.42)(82.6,-0.28)(83.4,-0.42)(85.9,-0.83)(97.5,-0.83)(99.2,-0.76)(102.5,-0.76)(106.6,-0.76)(109.1,-0.83)(112.4,-0.76)(113.6,-0.83)};
\node[plab] at (rel axis cs:0.042,0.05) {P12};
\end{axis}

% ---------------- Row 4 ----------------
\begin{axis}[panel, bottomrow, at={(36pt,36pt)}]
\addplot[det] coordinates {(0.9,-0.65)(2.3,0.25)(3.2,-0.1)(4.1,-0.17)(4.8,-0.72)(5.9,-0.86)(7.1,1.08)(8,-1.28)(8.9,-0.44)(9.8,-0.79)(10.7,-0.58)(11.6,-0.51)(12.5,-0.65)(13.4,-0.03)(14.3,-0.24)(15.2,-0.93)(16.1,0.32)(17,-0.44)(18.4,-1.14)(19.3,-1.14)(20.2,-0.79)(20.9,0.32)(22,0.46)(23.2,0.6)(24.1,-0.31)(25.5,0.39)(26.8,0.81)(27.7,0.6)(28.6,0.53)(29.5,0.6)(30.9,-1.21)(32.1,-0.38)(33,-0.58)(34.5,0.67)(35.2,-0.86)(36.3,1.08)(38.4,-0.24)(39.3,-0.17)(40.2,2.68)(41.1,0.39)(42.3,-1.14)(43.4,0.67)(44.6,0.53)(45.5,0.67)(46.4,1.43)(47.3,2.4)(48.2,-1.07)(49.1,2.19)(50,0.32)(50.9,0.25)(52.3,0.25)(54.1,0.94)(55.4,-1.28)(55.9,1.5)(57.1,1.71)(58.4,-0.58)(59.5,0.32)(60.2,0.88)(61.3,-0.44)(62.5,-0.44)(63.4,-0.79)(64.3,-0.65)(65.2,0.81)(66.1,0.67)(67,-0.44)(67.9,1.43)(68.8,-0.72)(69.6,0.32)(72.6,-0.03)(73.2,-0.44)(73.8,0.32)(75,1.57)(75.9,1.57)(77,2.82)(78,-0.51)(78.5,0.32)(79.8,-0.38)(82.4,-0.79)(83,-0.24)(84.8,0.32)(85.7,1.22)(87,-0.79)(88,1.57)(88.8,-0.17)(89.8,-0.38)(90.5,-0.44)(92.9,0.32)(93.8,1.08)(94.6,1.99)(95.5,0.46)(96.4,-0.51)(97.7,0.32)(98.8,-0.17)(100,0.46)(100.9,-0.31)(101.8,-0.51)(102.7,1.15)(103.6,1.22)(104.5,0.88)(105.4,0.6)(106.6,-0.17)(107.7,0.53)(108.9,-0.38)(109.8,-0.24)(110.7,0.81)(111.6,-0.51)(112.5,1.22)(113.8,1.85)(114.3,1.36)(115.2,1.43)(116.1,1.43)(117,2.33)(117.9,1.08)(118.8,2.26)};
\addplot[zl] coordinates {(1,0)(118.5,0)};
\addplot[mis] coordinates {(0.9,-0.93)(13,-0.86)(25,-1.35)(28,-0.38)(37.1,-1.03)(52.7,-1.21)(70.2,-1)(71.4,-1.07)(79.1,-0.93)(81.3,-1.11)(91.6,-1.11)};
\node[plab] at (rel axis cs:0.042,0.05) {P13};
\end{axis}

\begin{axis}[panel, bottomrow, at={(247pt,36pt)}]
\addplot[det] coordinates {(0.4,0.6)(1.4,-0.1)(2.3,0.32)(3.2,0.25)(4.4,-1.21)(5.3,0.25)(6.2,-0.44)(7.1,-0.51)(8.5,-0.72)(9.8,-0.51)(10.7,-0.86)(12.1,-0.86)(12.8,2.26)(13.9,0.53)(15.1,1.15)(16,0.32)(16.9,0.39)(18.1,0.32)(19.2,0.18)(20.4,-0.93)(22.7,0.67)(24,-0.79)(24.9,-1.14)(25.8,-0.65)(26.6,0.74)(28.1,-0.51)(28.8,-0.93)(29.8,-0.44)(31.1,1.01)(32,0.6)(32.9,1.08)(34.1,1.22)(35.2,1.22)(35.9,-0.03)(38.2,0.11)(40,1.15)(41.2,-0.24)(42.6,1.15)(44.6,0.04)(45.3,1.85)(46.2,-0.38)(47.6,-0.24)(48.8,-0.38)(49.7,0.39)(50.6,0.6)(51.5,-0.24)(52.9,-0.38)(54.2,0.18)(55.1,1.22)(56.5,0.04)(57.7,-0.86)(59,0.67)(60,-1.14)(61.3,-0.65)(62.2,2.54)(63,2.26)(65.4,-0.93)(66.6,1.57)(67.5,-1.14)(68.4,-0.65)(69.3,0.25)(70.7,0.53)(71.4,-0.17)(72.5,0.88)(73.7,0.6)(74.6,1.08)(75.5,0.04)(76.4,-0.65)(77.8,0.11)(78.5,1.43)(79.9,-0.17)(80.8,0.32)(81.7,-0.1)(84.4,0.67)(85.9,-0.03)(86.7,-0.79)(87.9,0.46)(88.8,1.57)(90.2,-0.79)(92.4,0.39)(94.1,-0.03)(96.3,0.74)(97.7,-0.93)(99.6,0.25)(100.4,-0.17)(101.6,0.67)(103,1.22)(104.4,-0.38)(105.7,0.46)(106.9,-0.31)(108,0.04)(108.7,2.12)(109.8,-0.03)(111,-0.31)(112.3,-0.51)(113.7,-0.24)(114.6,-0.44)(115.5,0.25)(116.9,-0.51)(118.7,1.08)};
\addplot[zl] coordinates {(1,0)(118.5,0)};
\addplot[mis] coordinates {(21.7,-0.44)(37.3,-0.51)(43.5,-1)(63.6,-0.17)(83.5,-0.31)(82.6,-1.28)(85.3,-0.65)(88.5,-0.93)(89.7,-1.07)(91.5,-1.07)(95.6,-0.24)(96.8,-0.38)(99.1,-0.24)(102.7,0.94)(103.4,0.32)(110.1,-1.14)(117.2,-0.86)};
\node[plab] at (rel axis cs:0.042,0.05) {P14};
\end{axis}

\begin{axis}[panel, bottomrow, at={(455.5pt,36pt)}]
\addplot[det] coordinates {(0.8,0.56)(2,0.7)(3,-0.49)(3.8,0.56)(4.9,-0.7)(6.2,0.49)(7.4,0.07)(8.2,-1.06)(9,-0.14)(9.8,1.76)(11.1,0.42)(11.8,-0.7)(12.8,2.25)(13.9,0.42)(14.8,-0.92)(16.1,-0.42)(16.7,0.21)(17.7,-0.85)(18.4,0.14)(19.7,-0.56)(20.5,-0.7)(21.3,0)(22.6,-0.85)(23.8,-0.35)(24.6,-0.92)(25.4,-0.14)(27,0.77)(27.9,0.56)(28.7,0.21)(29.5,-0.21)(30.3,0.42)(31.5,-0.7)(32.5,0.07)(33.6,0.35)(34.4,0.56)(35.7,-0.42)(36.4,-0.35)(37.7,0.14)(39,0.77)(40.2,-0.56)(41,1.69)(42.3,-0.56)(43.1,0.63)(44.3,-0.49)(45.6,-0.35)(45.9,1.97)(46.7,0.49)(47.9,2.54)(48.9,-0.7)(49.5,-0.28)(50.5,-0.28)(51.6,-0.21)(52.8,-0.7)(53.8,-0.85)(54.9,-0.49)(56.1,2.11)(57,1.06)(57.7,0.99)(58.7,0.49)(60.7,-0.7)(62,0.14)(62.6,-0.85)(63.6,0)(64.8,-0.77)(65.2,0.49)(65.9,1.13)(66.9,-0.35)(69.2,0.49)(70.5,-0.99)(71.8,-0.07)(73,0)(73.8,-0.7)(75.1,0)(76.2,0.07)(77,0)(77.9,-0.92)(78.7,0)(79.9,1.62)(81.1,-0.77)(82.3,0)(83.3,0.49)(83.9,-0.92)(84.9,0.77)(86.1,-0.7)(87.2,0.21)(88.2,-0.7)(90.5,0.14)(91.8,0.42)(93.4,0)(94.8,-0.14)(95.9,0.77)(97,0)(98.4,0.14)(100,0.77)(101.3,2.9)(102.5,0.49)(103.6,0)(104.6,0.77)(105.7,1.76)(106.6,0.35)(107.4,0)(108.2,0.21)(109,0)(109.8,0.35)(110.7,-0.35)(111.5,-0.07)(112.3,0.21)(113.4,-0.21)(114.4,-0.49)(115.1,-0.56)(116.1,-0.28)(116.7,-0.85)(117.7,0.35)(118.9,1.62)};
\addplot[zl] coordinates {(1,0)(118.5,0)};
\addplot[mis] coordinates {(25.9,-0.99)(41.8,-0.77)(43.9,-0.85)(50,-1.06)(52.1,-0.99)(54.9,-0.77)(59.8,-0.92)(67.9,-0.92)(69.7,-0.77)(71.3,-0.63)(88.9,-0.99)(90.2,-0.7)(90.5,-0.28)(92.6,0.7)(100,-0.92)(100.8,-0.63)};
\node[plab] at (rel axis cs:0.042,0.05) {P15};
\end{axis}

\begin{axis}[panel, bottomrow, at={(664.5pt,36pt)}]
\addplot[det] coordinates {(0.5,0.35)(1.6,0.63)(2.8,0.07)(3.8,-0.92)(4.9,1.27)(5.8,-0.07)(7.1,1.2)(7.7,-0.63)(8.7,-0.28)(9.9,0.42)(10.7,-0.63)(12,-0.49)(13.2,-0.63)(14,0.28)(14.8,-0.21)(15.6,-0.85)(16.4,-0.77)(17.6,-0.28)(18.6,-0.35)(19.2,-0.49)(20.2,-0.7)(21.4,-1.06)(22.2,-1.55)(23,0.42)(24.2,-0.85)(25.2,-1.06)(26.3,1.13)(27.5,0.63)(28.5,0.56)(29.6,0.49)(30.4,-0.56)(31.7,-0.42)(32.9,0.77)(34,1.55)(35,0.21)(36.2,-0.28)(37,0.07)(37.8,-0.85)(38.9,1.34)(39.9,0.7)(41.1,0.07)(42.3,-0.92)(43.6,-0.92)(44.4,0.07)(45.2,2.68)(46.1,1.34)(47.2,-0.21)(48.2,-0.21)(49.3,-0.21)(50.5,1.34)(51.5,1.06)(52.1,0.99)(53.1,1.06)(55.4,1.2)(56.7,1.55)(58.1,0.35)(59.2,-1.13)(60.4,-0.92)(61.7,-0.99)(63,-0.85)(64.1,-0.14)(65.3,2.11)(66.3,1.97)(67.4,0.49)(68.6,1.27)(69.6,0.14)(70.7,0)(73.2,-0.42)(74.8,0.07)(76.8,1.55)(78.1,1.55)(78.9,1.13)(80.1,0.85)(81.1,2.75)(82.2,0.28)(83.4,0.56)(84.7,2.32)(86,0.77)(87.2,-0.92)(88.9,0)(89.3,0.77)(90.5,0.85)(91.6,1.97)(92.6,0.77)(93.8,0.92)(94.9,0.21)(95.9,0.14)(97,-0.14)(98.2,0.21)(99.2,-0.99)(100.3,0.49)(101.5,1.06)(102.5,0.07)(103.6,0.85)(104.8,1.27)(105.8,1.69)(106.4,-0.21)(108.1,0.7)(109.4,0.42)(110.2,0.35)(111.3,0.49)(112.3,0.99)(113.5,1.34)(114.3,1.2)(115.1,0.21)(116.3,0.28)(118.9,-0.77)};
\addplot[zl] coordinates {(1,0)(118.5,0)};
\addplot[mis] coordinates {(36.7,-0.56)(54.3,-1.34)(62.5,-1.41)(71.5,-0.92)(75.7,-1.41)(82.7,-0.7)(88.3,-1.27)(91.3,-1.55)(105.3,-0.21)(107.4,-0.21)(109.7,-0.21)};
\node[plab] at (rel axis cs:0.042,0.05) {P16};
\end{axis}
\end{tikzpicture}
\end{document}
